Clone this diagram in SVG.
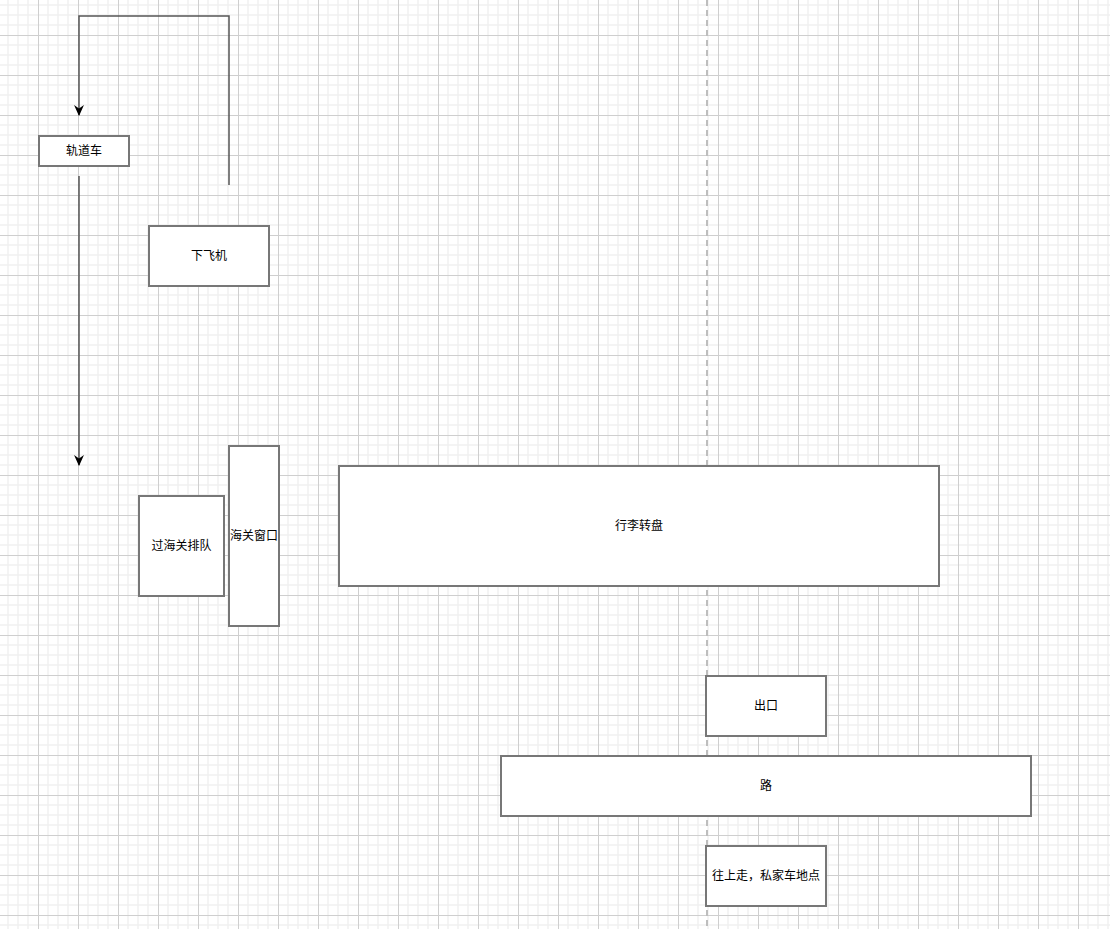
<svg xmlns="http://www.w3.org/2000/svg" width="1110" height="929" viewBox="0 0 1110 929">
<style>
.box{fill:#fff;stroke:#777;stroke-width:2}
.lbl{font-family:"Liberation Sans","Noto Sans CJK SC",sans-serif;font-size:12px;fill:#000;text-anchor:middle;dominant-baseline:central}
.edge{fill:none;stroke:#555;stroke-width:1.5}
</style>
<defs>
<pattern id="grid" patternUnits="userSpaceOnUse" x="38" y="35" width="40" height="40">
<rect width="40" height="40" fill="#fff"/>
<path d="M10 0V40M20 0V40M30 0V40M0 10H40M0 20H40M0 30H40" stroke="#f1f1f1" stroke-width="1.5"/>
<path d="M0.5 0V40M0 0.5H40" stroke="#cfcfcf" stroke-width="1"/>
</pattern>
<marker id="arr" viewBox="0 0 10 10" refX="9" refY="5" markerWidth="11" markerHeight="11" markerUnits="userSpaceOnUse" orient="auto">
<path d="M0 0.5L10 5L0 9.5L3 5Z" fill="#000"/>
</marker>
</defs>
<rect width="1110" height="929" fill="url(#grid)"/>
<line x1="707" y1="0" x2="707" y2="929" stroke="#bdbdbd" stroke-width="2" stroke-dasharray="6 4"/>
<g id="connectors">
<path class="edge" d="M229 185V16H79V115" marker-end="url(#arr)"/>
<path class="edge" d="M79 176V465" marker-end="url(#arr)"/>
</g>
<g id="n1"><rect class="box" x="39" y="136" width="90" height="30"/><text class="lbl" x="84" y="151">轨道车</text></g>
<g id="n2"><rect class="box" x="149" y="226" width="120" height="60"/><text class="lbl" x="209" y="256">下飞机</text></g>
<g id="n3"><rect class="box" x="139" y="496" width="85" height="100"/><text class="lbl" x="181.5" y="546">过海关排队</text></g>
<g id="n4"><rect class="box" x="229" y="446" width="50" height="180"/><text class="lbl" x="254" y="536">海关窗口</text></g>
<g id="n5"><rect class="box" x="339" y="466" width="600" height="120"/><text class="lbl" x="639" y="526">行李转盘</text></g>
<g id="n6"><rect class="box" x="706" y="676" width="120" height="60"/><text class="lbl" x="766" y="706">出口</text></g>
<g id="n7"><rect class="box" x="501" y="756" width="530" height="60"/><text class="lbl" x="766" y="786">路</text></g>
<g id="n8"><rect class="box" x="706" y="846" width="120" height="60"/><text class="lbl" x="766" y="876">往上走，私家车地点</text></g>
</svg>
